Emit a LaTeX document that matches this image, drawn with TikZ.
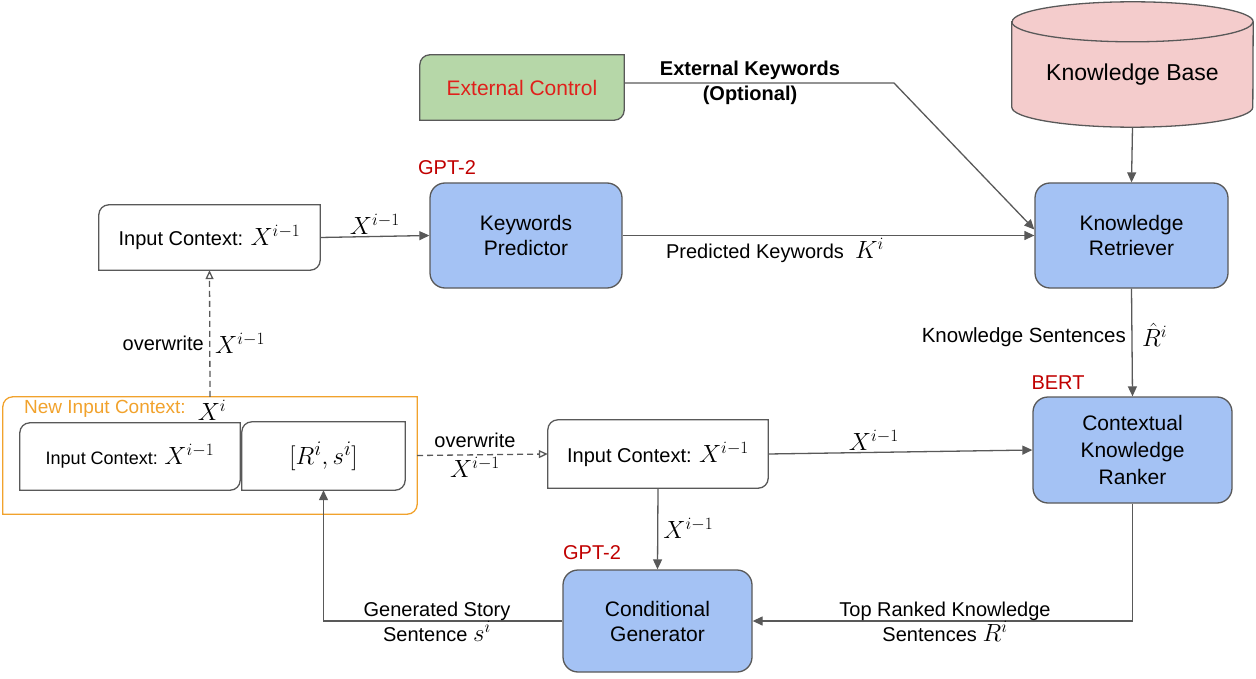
\documentclass[tikz,border=0pt]{standalone}
\usepackage{fontspec}
\setmainfont{Liberation Sans}
\usetikzlibrary{arrows.meta,backgrounds,calc}
\definecolor{lg}{HTML}{595959}
\definecolor{bluef}{HTML}{A4C2F4}
\definecolor{pinkf}{HTML}{F4CCCC}
\definecolor{greenf}{HTML}{B6D7A8}
\definecolor{orangel}{HTML}{F1A22C}
\definecolor{extred}{HTML}{E0201B}
\definecolor{mdlred}{HTML}{C00000}
\newcommand\mx[1]{{\fontsize{23}{27}\selectfont$#1$}}
\newcommand\hrbox[3]{%
  \draw[#3] (#1.south west) -- ([yshift=-#2]#1.north west)
    arc[start angle=180,end angle=90,radius=#2] -- (#1.north east)
    -- ([yshift=#2]#1.south east)
    arc[start angle=0,end angle=-90,radius=#2] -- cycle;}
\tikzset{
  base/.style={font=\fontsize{21}{25}\selectfont, align=center, inner sep=0pt},
  bluebox/.style={base, draw=lg, fill=bluef, line width=1.3pt, rounded corners=15pt},
  plainbox/.style={base},
  hrline/.style={draw=lg, line width=1.3pt},
  arr/.style={draw=lg, line width=1.3pt, -{Triangle[length=10pt,width=9pt]}},
  darr/.style={draw=lg, line width=1.3pt, dash pattern=on 6pt off 4pt, -{Triangle[open,length=9pt,width=8pt]}},
  lbl/.style={font=\fontsize{20}{25}\selectfont, align=center, inner sep=1pt},
  mdl/.style={font=\fontsize{20}{24}\selectfont, text=mdlred, inner sep=0pt}
}
\begin{document}
\begin{tikzpicture}[x=1pt,y=1pt]
\useasboundingbox (0,0) rectangle (1256,-679);
% nodes
\node[plainbox, minimum width=204pt, minimum height=65pt, text=extred] (ext) at (522,-87.5) {External Control};
\node[minimum width=241pt, minimum height=125pt, inner sep=0pt] (kb) at (1132.5,-64.5) {};
\node[base, font=\fontsize{23}{27}\selectfont] (kbt) at (1132.5,-75) {Knowledge Base};
\node[bluebox, minimum width=193pt, minimum height=105pt] (kr) at (1131.5,-235.5) {Knowledge\\Retriever};
\node[bluebox, minimum width=192pt, minimum height=105pt] (kp) at (526,-235.5) {Keywords\\Predictor};
\node[plainbox, minimum width=221pt, minimum height=65pt, font=\fontsize{20}{25}\selectfont] (ic1) at (209.5,-237.5) {Input Context: \mx{X^{i-1}}};
\node[plainbox, minimum width=414pt, minimum height=117pt] (nic) at (210,-455.5) {};
\node[plainbox, minimum width=220pt, minimum height=67pt, font=\fontsize{18}{22}\selectfont] (ic2) at (130,-456.5) {Input Context: \mx{X^{i-1}}};
\node[plainbox, minimum width=163pt, minimum height=68pt, font=\fontsize{28}{30}\selectfont] (rs) at (323.5,-456) {$[R^i, s^i]$};
\node[plainbox, minimum width=220pt, minimum height=68pt, font=\fontsize{20}{25}\selectfont] (ic3) at (658,-454) {Input Context: \mx{X^{i-1}}};
\node[bluebox, minimum width=199pt, minimum height=106pt, font=\fontsize{21}{27}\selectfont] (ckr) at (1132.5,-450) {Contextual\\Knowledge\\Ranker};
\node[bluebox, minimum width=189pt, minimum height=102pt] (cg) at (657.5,-621) {Conditional\\Generator};
% model labels
\node[mdl] (gpt1) at (447,-168) {GPT-2};
\node[mdl] (bert) at (1058,-383) {BERT};
\node[mdl] (gpt2) at (592,-553) {GPT-2};
% half-rounded boxes and cylinder on background
\begin{scope}[on background layer]
  \hrbox{nic}{10pt}{draw=orangel, line width=1.3pt}
  \hrbox{ext}{10pt}{hrline, fill=greenf}
  \hrbox{ic1}{10pt}{hrline, fill=white}
  \hrbox{ic2}{10pt}{hrline, fill=white}
  \hrbox{rs}{10pt}{hrline, fill=white}
  \hrbox{ic3}{10pt}{hrline, fill=white}
  \draw[hrline, fill=pinkf] ([yshift=-20pt]kb.north west) -- ([yshift=20pt]kb.south west)
    arc[start angle=180,end angle=360,x radius=120.5pt,y radius=20pt]
    -- ([yshift=-20pt]kb.north east)
    arc[start angle=0,end angle=180,x radius=120.5pt,y radius=20pt] -- cycle;
  \draw[hrline] ([yshift=-20pt]kb.north west)
    arc[start angle=180,end angle=360,x radius=120.5pt,y radius=20pt];
\end{scope}
% texts inside orange box
\node[lbl, anchor=west, text=orangel, inner sep=0pt, font=\fontsize{19}{23}\selectfont] (nict) at (24,-409) {New Input Context:};
\node[lbl, inner sep=0pt] (nicx) at (212,-410) {\mx{X^i}};
% connectors
\coordinate (bend) at (894,-83);
\draw[arr] (ext.east |- bend) -- (bend) -- ([yshift=6pt]kr.west);
\node[lbl, font=\bfseries\fontsize{20}{25}\selectfont] (ekl) at (750,-83) {External Keywords\\(Optional)};
\draw[arr] (kb.south) -- (kr.north);
\draw[arr] (ic1.east) -- (kp.west) node[lbl, midway, above=0pt] {\mx{X^{i-1}}};
\draw[arr] (kp.east) -- (kr.west) node[lbl, pos=0.37, below=1pt] {Predicted Keywords\ \ \mx{K^i}};
\draw[arr] (kr.south) -- (ckr.north);
\node[lbl, anchor=east, font=\fontsize{20.5}{25}\selectfont] (ksl) at (1127,-337) {Knowledge Sentences};
\node[lbl, anchor=west, inner sep=0pt] (ksr) at (1142,-335) {\mx{\hat{R}^i}};
\draw[arr] (ic3.east) -- (ckr.west) node[lbl, pos=0.4, above=0pt] {\mx{X^{i-1}}};
\draw[arr] (ic3.south) -- (cg.north) node[lbl, midway, right=4pt] {\mx{X^{i-1}}};
\draw[arr] (ckr.south) |- (cg.east);
\node[lbl] (trk) at (945,-622) {Top Ranked Knowledge\\Sentences \mx{R^i}};
\draw[arr] (cg.west) -| (rs.south);
\node[lbl] (gss) at (437,-622) {Generated Story\\Sentence \mx{s^i}};
\draw[darr] (nic.east) -- (ic3.west);
\node[lbl] (ow1) at (475,-440) {overwrite};
\node[lbl] (ow1x) at (475,-467) {\mx{X^{i-1}}};
\draw[darr] (nic.north) -- (ic1.south);
\node[lbl, anchor=east] (ow2) at (205,-343) {overwrite};
\node[lbl, anchor=west] (ow2x) at (214,-343) {\mx{X^{i-1}}};
\end{tikzpicture}
\end{document}
